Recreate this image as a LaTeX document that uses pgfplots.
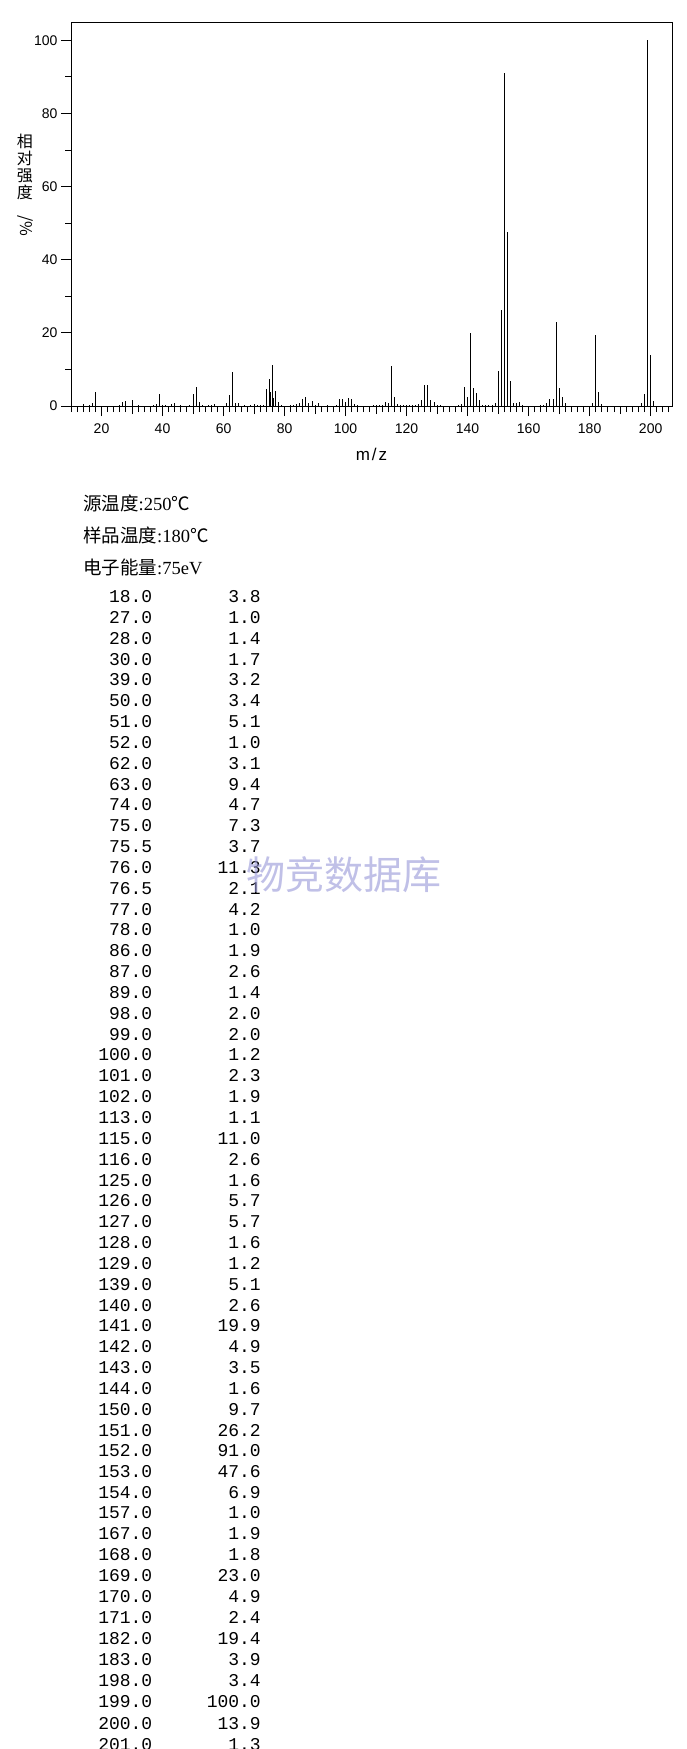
\documentclass[border=0pt]{standalone}
\usepackage{fontspec}
\usepackage{pgfplots}
\pgfplotsset{compat=1.18}
\setmainfont{Liberation Serif}
\newfontfamily\cjk{Noto Sans CJK SC}
\newfontfamily\tickfont{Liberation Sans}
\newfontfamily\tabfont{Liberation Mono}
\definecolor{wmark}{RGB}{150,150,215}

\begin{document}
\begin{tikzpicture}[x=1pt,y=1pt]
\useasboundingbox (0,0) rectangle (687,-1749);

\begin{axis}[
    at={(71pt,-406pt)}, anchor=south west,
    scale only axis, width=601pt, height=384pt,
    xmin=10, xmax=207, ymin=0, ymax=105,
    axis line style={line width=1pt},
    tick style={black, line width=1pt},
    tick align=outside,
    xtick pos=bottom, ytick pos=left,
    xtick={20,40,...,200},
    minor xtick={10,12,...,206},
    extra x ticks={30,50,...,190},
    extra x tick labels={},
    extra x tick style={major tick length=8pt},
    ytick={0,20,...,100},
    minor ytick={10,30,...,90},
    major tick length=10pt, minor tick length=6pt,
    /pgf/number format/assume math mode=true,
    ticklabel style={font=\tickfont\fontsize{14}{14}\selectfont},
    xticklabel style={yshift=-4pt},
    xlabel={m\hspace{2pt}/\hspace{2pt}z},
    every axis x label/.style={at={(rel axis cs:0.5,0)}, anchor=center, yshift=-48pt,
        font=\tickfont\fontsize{17}{17}\selectfont},
    ylabel={相\\对\\强\\度\\\rotatebox{-90}{/\%}},
    every axis y label/.style={at={(rel axis cs:0,0.5)}, anchor=center, xshift=-46pt, yshift=29pt,
        align=center, font=\cjk\fontsize{16}{17}\selectfont},
]
\addplot[ycomb, black, line width=1pt, mark=none] table {
x y
14 0.5
16 0.3
17 0.9
18 3.8
26 0.4
27 1.0
28 1.4
30 1.7
32 0.3
37 0.3
38 0.5
39 3.2
40 0.3
41 0.2
43 0.5
44 0.8
46 0.3
49 0.3
50 3.4
51 5.1
52 1.0
53 0.3
55 0.3
56 0.4
57 0.6
61 0.8
62 3.1
63 9.4
64 0.7
65 0.9
67 0.3
69 0.3
70 0.6
71 0.4
72 0.3
73 0.3
74 4.7
75 7.3
75.5 3.7
76 11.3
76.5 2.1
77 4.2
78 1.0
79 0.3
82 0.3
83 0.4
84 0.5
85 0.7
86 1.9
87 2.6
88 0.9
89 1.4
90 0.4
91 0.7
94 0.3
97 0.3
98 2.0
99 2.0
100 1.2
101 2.3
102 1.9
103 0.5
104 0.3
109 0.2
110 0.4
111 0.3
112 0.3
113 1.1
114 0.8
115 11.0
116 2.6
117 0.5
118 0.3
119 0.3
120 0.3
121 0.3
122 0.4
123 0.3
124 0.6
125 1.6
126 5.7
127 5.7
128 1.6
129 1.2
130 0.3
131 0.3
137 0.3
138 0.6
139 5.1
140 2.6
141 19.9
142 4.9
143 3.5
144 1.6
145 0.3
146 0.3
147 0.3
148 0.3
149 0.8
150 9.7
151 26.2
152 91.0
153 47.6
154 6.9
155 0.9
156 0.8
157 1.0
158 0.4
164 0.4
165 0.4
166 0.8
167 1.9
168 1.8
169 23.0
170 4.9
171 2.4
172 0.7
181 0.7
182 19.4
183 3.9
184 0.6
197 0.7
198 3.4
199 100.0
200 13.9
201 1.3
};
\end{axis}

% conditions
\begin{scope}[every node/.style={anchor=base west, inner sep=0, font=\fontsize{18.5}{18.5}\selectfont}]
\node at (83,-510.5) {{\cjk 源温度}:250{\cjk ℃}};
\node at (83,-542.5) {{\cjk 样品温度}:180{\cjk ℃}};
\node at (83,-574.5) {{\cjk 电子能量}:75eV};
\end{scope}

% peak list
\foreach \m/\v [count=\i from 0] in {18.0/3.8, 27.0/1.0, 28.0/1.4, 30.0/1.7, 39.0/3.2,
    50.0/3.4, 51.0/5.1, 52.0/1.0, 62.0/3.1, 63.0/9.4, 74.0/4.7, 75.0/7.3, 75.5/3.7,
    76.0/11.3, 76.5/2.1, 77.0/4.2, 78.0/1.0, 86.0/1.9, 87.0/2.6, 89.0/1.4, 98.0/2.0,
    99.0/2.0, 100.0/1.2, 101.0/2.3, 102.0/1.9, 113.0/1.1, 115.0/11.0, 116.0/2.6,
    125.0/1.6, 126.0/5.7, 127.0/5.7, 128.0/1.6, 129.0/1.2, 139.0/5.1, 140.0/2.6,
    141.0/19.9, 142.0/4.9, 143.0/3.5, 144.0/1.6, 150.0/9.7, 151.0/26.2, 152.0/91.0,
    153.0/47.6, 154.0/6.9, 157.0/1.0, 167.0/1.9, 168.0/1.8, 169.0/23.0, 170.0/4.9,
    171.0/2.4, 182.0/19.4, 183.0/3.9, 198.0/3.4, 199.0/100.0, 200.0/13.9, 201.0/1.3} {
  \pgfmathsetmacro\yy{(\i>43 ? 1513+21.05*(\i-44) : 597+20.84*\i)+5.5}
  \node[anchor=base east, inner sep=0, font=\tabfont\fontsize{18}{18}\selectfont] at (152.5,-\yy) {\m};
  \node[anchor=base east, inner sep=0, font=\tabfont\fontsize{18}{18}\selectfont] at (261,-\yy) {\v};
}

% watermark
\node[text=wmark, text opacity=0.6, inner sep=0, font=\cjk\fontsize{39}{39}\selectfont] at (343.5,-875) {物竞数据库};
\end{tikzpicture}
\end{document}
